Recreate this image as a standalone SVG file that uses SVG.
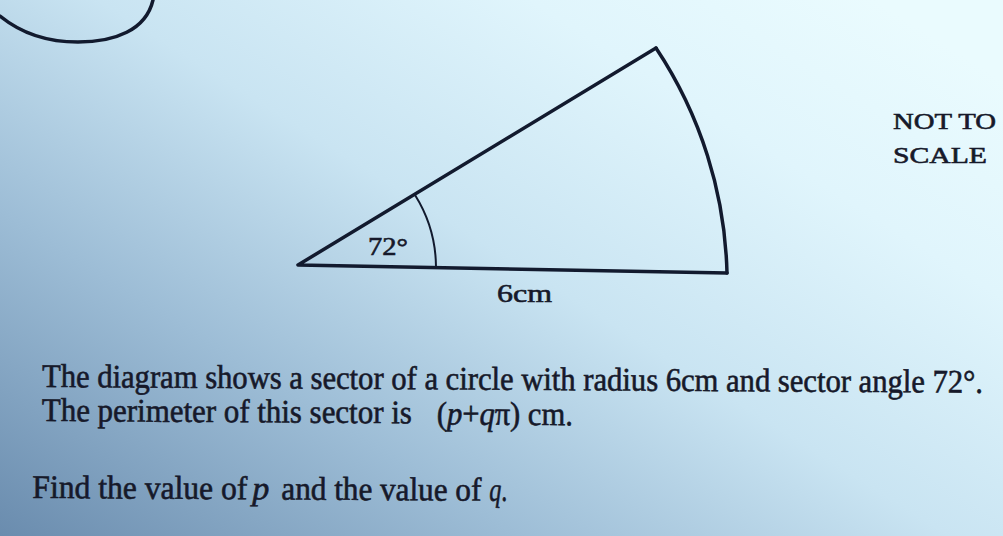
<svg xmlns="http://www.w3.org/2000/svg" width="1003" height="536" viewBox="0 0 1003 536">
  <defs>
    <linearGradient id="bg" x1="0" y1="1" x2="1" y2="0.15">
      <stop offset="0" stop-color="#6a8cae"/>
      <stop offset="0.3" stop-color="#9dbdd6"/>
      <stop offset="0.55" stop-color="#c9e4f2"/>
      <stop offset="0.8" stop-color="#e0f5fc"/>
      <stop offset="1" stop-color="#eafbfe"/>
    </linearGradient>
    <style>
      .ln { fill: none; stroke: #121a2e; stroke-linecap: round; stroke-linejoin: round; }
      .tx { font-family: "Liberation Serif", "Times New Roman", serif; fill: #16192a; stroke: #16192a; stroke-width: 0.6; }
      .it { font-style: italic; }
    </style>
  </defs>
  <rect x="0" y="0" width="1003" height="536" fill="url(#bg)"/>

  <g id="circle-fragment">
    <path class="ln" stroke-width="3.5" d="M0,16 C22,34 50,42 78,42 C115,42 146,30 153,0"/>
  </g>

  <g id="sector">
    <path class="ln" stroke-width="3.5" d="M656,48 L298,265 L727,273"/>
    <path class="ln" stroke-width="3.5" d="M656,48 A425,425 0 0 1 727,273"/>
  </g>

  <g id="angle-mark">
    <path class="ln" stroke-width="2" d="M415,195 A137,137 0 0 1 436,267"/>
    <text class="tx" x="368" y="255" font-size="26" stroke-width="0.3" textLength="40" lengthAdjust="spacingAndGlyphs">72°</text>
  </g>

  <g id="radius-label">
    <text class="tx" x="497" y="302" font-size="26" stroke-width="0.3" textLength="55" lengthAdjust="spacingAndGlyphs">6cm</text>
  </g>

  <g id="not-to-scale">
    <text class="tx" x="893" y="129" font-size="24" stroke-width="0.3" textLength="103" lengthAdjust="spacingAndGlyphs">NOT TO</text>
    <text class="tx" x="893" y="163" font-size="24" stroke-width="0.3" textLength="94" lengthAdjust="spacingAndGlyphs">SCALE</text>
  </g>

  <g id="question" transform="rotate(0.35 42 387)">
    <text class="tx" x="42" y="387" font-size="33" textLength="941" lengthAdjust="spacingAndGlyphs">The diagram shows a sector of a circle with radius 6cm and sector angle 72°.</text>
    <text class="tx" x="42" y="421" font-size="33" textLength="370" lengthAdjust="spacingAndGlyphs">The perimeter of this sector is</text>
    <text class="tx" x="437" y="422" font-size="33" textLength="136" lengthAdjust="spacingAndGlyphs">(<tspan class="it">p</tspan>+<tspan class="it">q</tspan>π) cm.</text>
    <text class="tx" x="33" y="498" font-size="33" textLength="215" lengthAdjust="spacingAndGlyphs">Find the value of</text>
    <text class="tx it" x="253" y="498" font-size="33" textLength="17" lengthAdjust="spacingAndGlyphs">p</text>
    <text class="tx" x="282" y="498" font-size="33" textLength="200" lengthAdjust="spacingAndGlyphs">and the value of</text>
    <text class="tx" x="490" y="498" font-size="33" textLength="18" lengthAdjust="spacingAndGlyphs"><tspan class="it">q</tspan>.</text>
  </g>
</svg>
